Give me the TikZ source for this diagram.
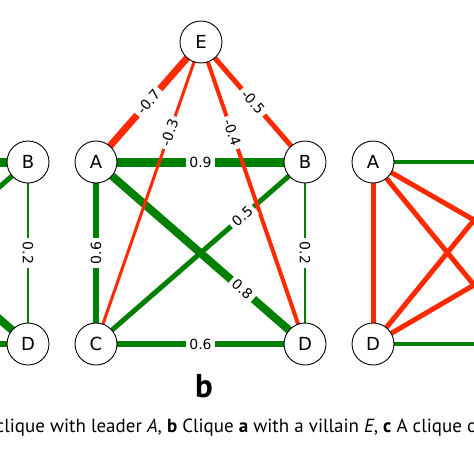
\documentclass[tikz,border=0pt]{standalone}
\usepackage{fontspec}
\setmainfont{PT Sans}
\newfontfamily\dvs{DejaVu Sans}
\usetikzlibrary{backgrounds}
\definecolor{eg}{HTML}{008000}
\definecolor{er}{HTML}{FF2A00}
\begin{document}
\begin{tikzpicture}[x=1pt,y=-1pt,
  vtx/.style={circle,draw=black,line width=0.9pt,fill=white,minimum size=42pt,inner sep=0pt,font=\dvs\fontsize{18}{18}\selectfont},
  gedge/.style={draw=eg,line width=#1},
  redge/.style={draw=er,line width=#1},
  elab/.style={fill=white,inner sep=3.5pt,font=\dvs\fontsize{14}{14}\selectfont},
  capt/.style={inner sep=0pt,font=\fontsize{19}{19}\selectfont}]
\useasboundingbox (0,0) rectangle (474,474);
\clip (0,0) rectangle (474,474);
% graph a (left, mostly outside)
\node[vtx] (aA) at (-180,162) {A};
\node[vtx] (aB) at (28,162) {B};
\node[vtx] (aC) at (-180,344) {C};
\node[vtx] (aD) at (28,344) {D};
% graph b
\node[vtx] (bE) at (201,42) {E};
\node[vtx] (bA) at (96,162) {A};
\node[vtx] (bB) at (305,162) {B};
\node[vtx] (bC) at (96,344) {C};
\node[vtx] (bD) at (305,344) {D};
% graph c (right, partly outside)
\node[vtx] (cA) at (373,162) {A};
\node[vtx] (cD) at (373,344) {D};
\node[vtx] (cB) at (581,162) {B};
\node[vtx] (cC) at (581,344) {C};
\coordinate (cP) at (474,220);
\coordinate (cQ) at (474,285);
\begin{scope}[on background layer]
  % a
  \draw[gedge=9pt] (aA.center) -- (aB.center);
  \draw[gedge=6pt] (aC.center) -- (aD.center);
  \draw[gedge=8pt] (aA.center) -- (aD.center);
  \draw[gedge=5pt] (aC.center) -- (aB.center);
  \draw[gedge=2pt] (aB.center) -- (aD.center);
  % b
  \draw[gedge=9pt] (bA.center) -- (bB.center);
  \draw[gedge=6pt] (bA.center) -- (bC.center);
  \draw[gedge=2pt] (bB.center) -- (bD.center);
  \draw[gedge=6pt] (bC.center) -- (bD.center);
  \draw[gedge=8pt] (bA.center) -- (bD.center);
  \draw[gedge=5pt] (bC.center) -- (bB.center);
  \draw[redge=7pt] (bE.center) -- (bA.center);
  \draw[redge=5pt] (bE.center) -- (bB.center);
  \draw[redge=3pt] (bE.center) -- (bC.center);
  \draw[redge=4pt] (bE.center) -- (bD.center);
  % c
  \draw[gedge=4.5pt] (cA.center) -- (cB.center);
  \draw[gedge=4.5pt] (cD.center) -- (cC.center);
  \draw[redge=5pt] (cA.center) -- (cD.center);
  \draw[redge=5pt,line cap=round] (cA.center) -- (cP) -- (cD.center);
  \draw[redge=5pt,line cap=round] (cA.center) -- (cQ) -- (cD.center);
  % labels
  \path (aB.center) -- node[elab,rotate=-90]{0.2} (aD.center);
  \path (bA.center) -- node[elab]{0.9} (bB.center);
  \path (bA.center) -- node[elab,rotate=90]{0.6} (bC.center);
  \path (bB.center) -- node[elab,rotate=-90]{0.2} (bD.center);
  \path (bC.center) -- node[elab]{0.6} (bD.center);
  \path (bA.center) -- node[elab,pos=0.7,rotate=-41]{0.8} (bD.center);
  \path (bC.center) -- node[elab,pos=0.7,rotate=41]{0.5} (bB.center);
  \path (bE.center) -- node[elab,rotate=48.8]{-0.7} (bA.center);
  \path (bE.center) -- node[elab,rotate=-49.1]{-0.5} (bB.center);
  \path (bE.center) -- node[elab,pos=0.3,rotate=70.8]{-0.3} (bC.center);
  \path (bE.center) -- node[elab,pos=0.3,rotate=-71]{-0.4} (bD.center);
\end{scope}
\node[inner sep=0pt,anchor=base,font=\bfseries\fontsize{33}{33}\selectfont] (lb) at (204,397) {b};
\node[capt,anchor=base west] (cap) at (-4.5,432) {clique with leader \textit{A}, \textbf{b} Clique \textbf{a} with a villain \textit{E}, \textbf{c} A clique o};
\end{tikzpicture}
\end{document}
